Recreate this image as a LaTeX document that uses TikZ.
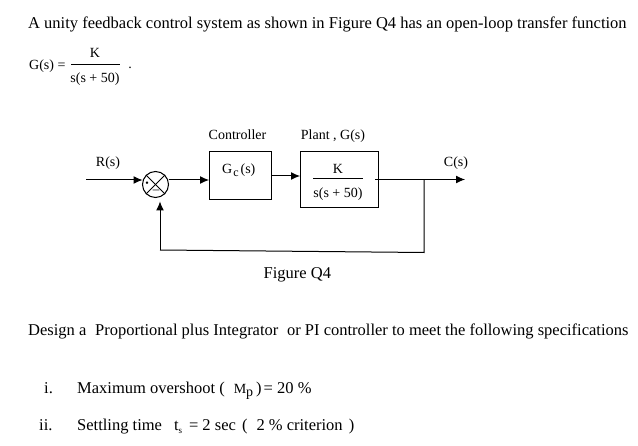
\documentclass[tikz,border=0pt]{standalone}
\usepackage{fontspec}
\setmainfont{Liberation Serif}
\usetikzlibrary{arrows.meta, positioning}
\tikzset{
  body/.style={anchor=base west, inner sep=0, font=\fontsize{16.5}{18}\selectfont},
  small/.style={anchor=base, inner sep=0, font=\fontsize{14}{16}\selectfont},
  block/.style={draw, line width=1pt, inner sep=0, anchor=north west},
  wire/.style={line width=1pt, -{Latex[length=9pt, width=8pt]}},
  plain/.style={line width=1pt},
}
\begin{document}
\begin{tikzpicture}[x=1pt, y=-1pt]
  \useasboundingbox (0, 0) rectangle (638, 446);
  \fill[white] (0, 0) rectangle (638, 446);

  \node[body] (title) at (28, 29) {A unity feedback control system as shown in Figure Q4 has an open-loop transfer function};

  \node[small, anchor=base west] (gs) at (29, 70) {G(s) =};
  \node[small] (gnum) at (95, 58) {K};
  \node[small] (gden) at (95, 83) {s(s + 50)};
  \draw[plain] (71, 64.5) -- (120, 64.5);
  \node[small] (gdot) at (130, 69) {.};

  \node[block, minimum width=61.5pt, minimum height=48pt] (ctrl) at (209, 151) {};
  \node[block, minimum width=78pt, minimum height=56pt] (plant) at (300, 151) {};
  \node[draw, circle, line width=1pt, minimum size=26pt, inner sep=0] (sum) at (155.5, 184.5) {};
  \draw[plain] (sum.45) -- (sum.225);
  \draw[plain] (sum.135) -- (sum.315);
  \node[inner sep=0, font=\fontsize{10}{10}\selectfont] (plus) at (147, 184) {\textbullet};
  \node[inner sep=0, font=\fontsize{13}{13}\selectfont] (minus) at (156, 191.5) {–};

  \node[small] (ctrltop) at (237.5, 140) {Controller};
  \node[small] (planttop) at (333, 140) {Plant , G(s)};
  \node[small] (rs) at (108, 167) {R(s)};
  \node[small] (cs) at (456, 167) {C(s)};
  \node[small, anchor=base west] (gc) at (222, 174) {G\hspace{1pt}\raisebox{-3pt}{\fontsize{12}{12}\selectfont c}\hspace{2pt}(s)};
  \node[small] (pnum) at (338, 174) {K};
  \node[small] (pden) at (338, 198) {s(s + 50)};
  \draw[plain] (313, 178.7) -- (363, 178.7);

  \coordinate (in) at (86, 180);
  \coordinate (out) at (465, 179.5);
  \coordinate (plantout) at (375, 179.5);
  \coordinate (tap) at (424, 180);
  \coordinate (tapdown) at (424, 252.5);
  \coordinate (back) at (160, 250);
  \coordinate (sumin) at (142.5, 180);
  \coordinate (sumout) at (168.5, 180);
  \coordinate (sumunder) at (160, 201.5);

  \draw[wire] (in) -- (sumin);
  \draw[wire] (sumout) -- (sumout -| ctrl.west);
  \draw[wire] (ctrl.east |- 0, 176) -- (plant.west |- 0, 176);
  \draw[wire] (plantout) -- (out);
  \draw[plain] (tap) -- (tapdown) -- (back);
  \draw[wire] (back) -- (sumunder);

  \node[body] (figname) at (263.5, 279) {Figure Q4};

  \node[body] (design) at (28, 336) {Design a\; Proportional plus Integrator\; or PI controller to meet the following specifications};

  \node[body] (ione) at (44, 394) {i.};
  \node[body] (itemone) at (77, 394) {Maximum overshoot (\hspace{9pt}{\fontsize{14}{16}\selectfont M\raisebox{-3pt}{p}}\hspace{3pt})\hspace{2pt}= 20 \%};
  \node[body] (itwo) at (39, 431) {ii.};
  \node[body] (itemtwo) at (77, 431) {Settling time\hspace{12pt}t\raisebox{-3pt}{\fontsize{9}{9}\selectfont s}\hspace{7pt}= 2 sec\hspace{2pt} (\hspace{9pt}2 \% criterion\hspace{2pt} )};
\end{tikzpicture}
\end{document}
